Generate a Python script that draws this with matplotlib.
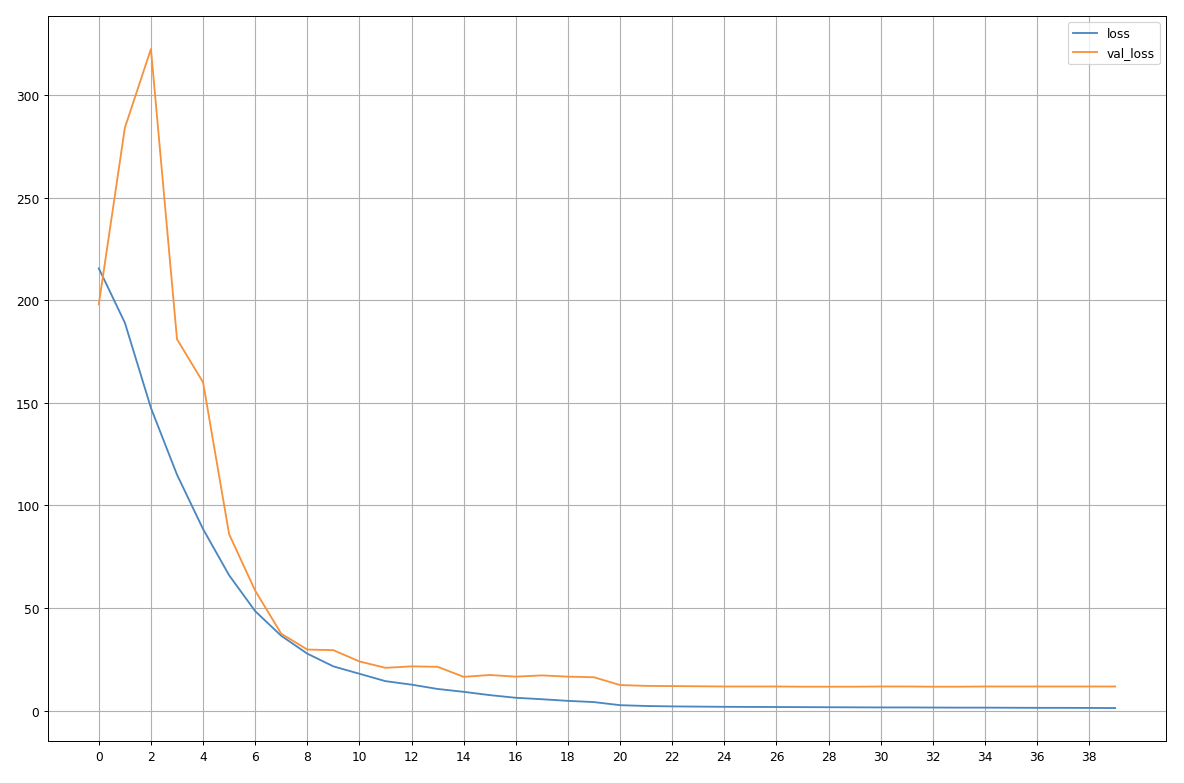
#!/usr/bin/env python3
"""Кривые обучения: loss и val_loss по эпохам."""
import matplotlib
matplotlib.use("Agg")
import matplotlib.pyplot as plt
import numpy as np

epochs = np.arange(40)
loss = [215.5, 189.0, 147.5, 115.0, 88.5, 66.0, 48.5, 36.5, 27.8, 21.6,
        18.0, 14.4, 12.7, 10.6, 9.2, 7.6, 6.3, 5.6, 4.8, 4.2,
        2.7, 2.3, 2.1, 2.0, 1.9, 1.85, 1.8, 1.75, 1.7, 1.65,
        1.6, 1.6, 1.55, 1.5, 1.5, 1.45, 1.4, 1.4, 1.35, 1.3]
val_loss = [198.0, 284.0, 322.4, 181.0, 160.0, 86.0, 58.5, 37.5, 29.8, 29.5,
            24.0, 20.9, 21.6, 21.4, 16.5, 17.4, 16.6, 17.2, 16.6, 16.3,
            12.5, 12.1, 12.0, 11.9, 11.8, 11.8, 11.8, 11.7, 11.7, 11.7,
            11.8, 11.8, 11.7, 11.7, 11.8, 11.8, 11.8, 11.8, 11.8, 11.8]

DPI = 88
fig = plt.figure(figsize=(1184 / DPI, 784 / DPI), dpi=DPI)
ax = fig.add_axes([48 / 1184, 1 - 742 / 784, (1166 - 48) / 1184, (742 - 17) / 784])
ax.plot(epochs, loss, label="loss", color="#4a86c0", lw=1.5)
ax.plot(epochs, val_loss, label="val_loss", color="#f7923a", lw=1.5)
ax.set_xticks(np.arange(0, 40, 2))
ax.set_yticks([0, 50, 100, 150, 200, 250, 300])
ax.grid(True, color="#b0b0b0", lw=0.9)
ax.legend(loc="upper right")
fig.savefig("out.png", dpi=DPI, facecolor="white")
